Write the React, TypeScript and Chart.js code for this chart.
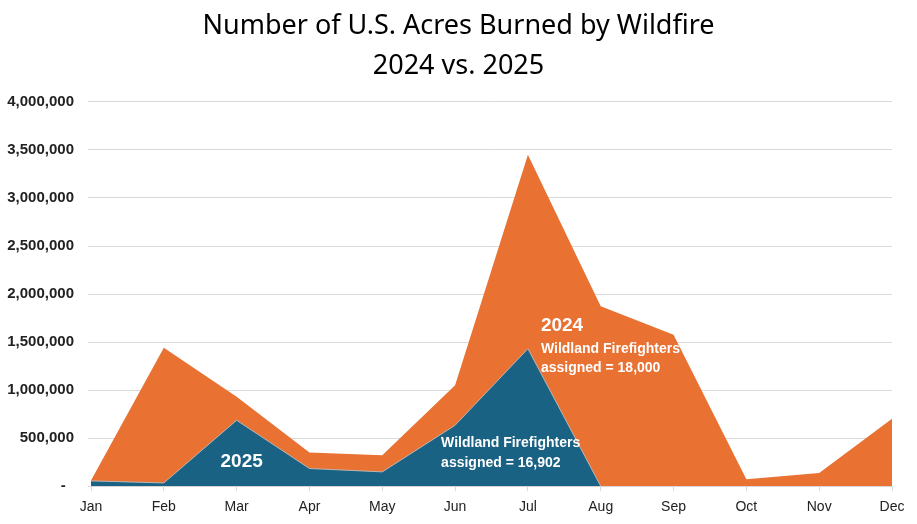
import React, { useEffect, useRef } from "react";
import { Chart, registerables } from "chart.js";

Chart.register(...registerables);

const months = ["Jan", "Feb", "Mar", "Apr", "May", "Jun", "Jul", "Aug", "Sep", "Oct", "Nov", "Dec"];
const acres2024 = [60000, 1440000, 930000, 350000, 322000, 1050000, 3450000, 1873000, 1576000, 73000, 138000, 703000];
const acres2025 = [55000, 34000, 686000, 184000, 149000, 634000, 1431000, 0, null, null, null, null];
const yTicks = [0, 500000, 1000000, 1500000, 2000000, 2500000, 3000000, 3500000, 4000000];
const titleLines = ["Number of U.S. Acres Burned by Wildfire", "2024 vs. 2025"];
const label2025 = ["2025"];
const note2025 = ["Wildland Firefighters", "assigned = 16,902"];
const label2024 = ["2024"];
const note2024 = ["Wildland Firefighters", "assigned = 18,000"];

const ORANGE = "#E97132";
const BLUE = "#1A6283";

const notesPlugin = {
  id: "notes",
  afterDatasetsDraw(chart: any) {
    const { ctx, scales } = chart;
    const x = scales.x;
    const y = scales.y;
    ctx.save();
    ctx.fillStyle = "#FFFFFF";
    ctx.textBaseline = "middle";
    // 2025 label
    ctx.font = "bold 19px 'Liberation Sans', Arial, sans-serif";
    ctx.textAlign = "center";
    ctx.fillText(label2025[0], x.getPixelForValue(2) + 5, y.getPixelForValue(250000));
    // 2025 note
    ctx.textAlign = "left";
    ctx.font = "bold 14px 'Liberation Sans', Arial, sans-serif";
    const lx = x.getPixelForValue(5) - 14;
    const ly = y.getPixelForValue(0) - 43;
    note2025.forEach((t, i) => ctx.fillText(t, lx, ly + i * 20));
    // 2024 label
    const rx = x.getPixelForValue(6) + 13;
    const ry = y.getPixelForValue(0) - 160;
    ctx.font = "bold 19px 'Liberation Sans', Arial, sans-serif";
    ctx.fillText(label2024[0], rx, ry);
    ctx.font = "bold 14px 'Liberation Sans', Arial, sans-serif";
    note2024.forEach((t, i) => ctx.fillText(t, rx, ry + 23 + i * 19));
    ctx.restore();
  },
};

export default function App() {
  const ref = useRef<HTMLCanvasElement | null>(null);
  useEffect(() => {
    if (!ref.current) return;
    const chart = new Chart(ref.current, {
      type: "line",
      data: {
        labels: months,
        datasets: [
          {
            label: "2025",
            data: acres2025,
            backgroundColor: BLUE,
            borderColor: "rgba(190,190,190,0.9)",
            borderWidth: 1,
            fill: "origin",
            pointRadius: 0,
            tension: 0,
            spanGaps: false,
          },
          {
            label: "2024",
            data: acres2024,
            backgroundColor: ORANGE,
            borderColor: ORANGE,
            borderWidth: 0,
            fill: "origin",
            pointRadius: 0,
            tension: 0,
          },
        ],
      },
      options: {
        responsive: false,
        animation: false,
        layout: { padding: { left: 0, right: 0, top: 0, bottom: 0 } },
        plugins: {
          legend: { display: false },
          tooltip: { enabled: false },
          title: {
            display: true,
            text: titleLines,
            color: "#000000",
            font: { family: "'Noto Sans', sans-serif", size: 27, weight: "normal", lineHeight: 1.48 },
            padding: { top: 6, bottom: 16 },
          },
        },
        scales: {
          x: {
            offset: false,
            grid: { display: true, drawOnChartArea: false, drawTicks: true, tickLength: 5, color: "#D9D9D9" },
            border: { display: true, color: "#D9D9D9" },
            ticks: {
              color: "#222222",
              font: { family: "'Liberation Sans', Arial, sans-serif", size: 14 },
              padding: 8,
              maxRotation: 0,
              autoSkip: false,
            },
          },
          y: {
            min: 0,
            max: 4000000,
            afterFit(scale: any) {
              scale.width = 91;
            },
            afterBuildTicks(scale: any) {
              scale.ticks = yTicks.map((v) => ({ value: v }));
            },
            grid: { color: "#D9D9D9", drawTicks: true, tickLength: 3 },
            border: { display: false },
            ticks: {
              color: "#222222",
              font: { family: "'Liberation Sans', Arial, sans-serif", size: 15, weight: "bold" },
              padding: 14,
              callback: (v: any) => (Number(v) === 0 ? "-  " : Number(v).toLocaleString("en-US")),
            },
          },
          yRight: {
            position: "right",
            display: true,
            afterFit(scale: any) {
              scale.width = 25;
            },
            grid: { display: false, drawTicks: false },
            border: { display: false },
            ticks: { display: false },
          },
        },
      },
      plugins: [notesPlugin],
    });
    return () => chart.destroy();
  }, []);
  return (
    <div style={{ position: "absolute", left: 0, top: 0, width: 917, height: 524, background: "#fff" }}>
      <canvas ref={ref} width={917} height={524} style={{ display: "block" }} />
    </div>
  );
}
